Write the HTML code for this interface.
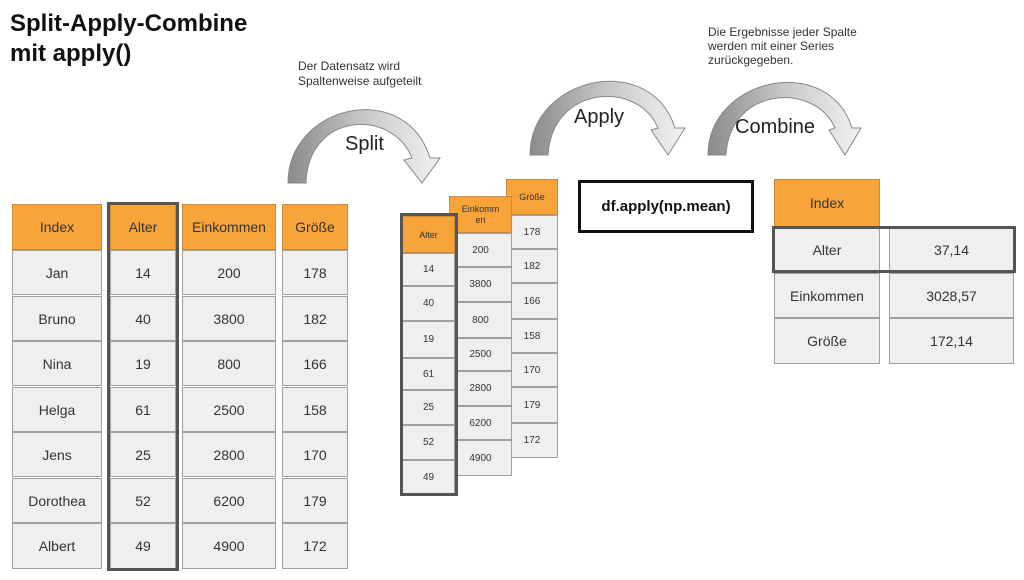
<!DOCTYPE html>
<html><head><meta charset="utf-8"><style>
body{margin:0;width:1024px;height:580px;background:#fff;position:relative;overflow:hidden;font-family:"Liberation Sans",Arial,sans-serif;}
.c{position:absolute;box-sizing:border-box;border:1px solid #a0a0a0;background:#efefef;display:flex;align-items:center;justify-content:center;text-align:center;color:#333;font-size:14px;}
.h{background:#f9a43a;border-color:#c98a3a;}
.t{position:absolute;color:#222;}
.s{font-size:9px;}
.m{font-size:10px;}
.b{position:absolute;box-sizing:border-box;border:3px solid #555;}
</style></head><body>
<div class="t" style="left:10px;top:9px;font-size:24px;font-weight:bold;line-height:30px;color:#111;">Split-Apply-Combine<br>mit apply()</div>
<div class="t" style="left:298px;top:59px;font-size:12px;line-height:15px;color:#333;">Der Datensatz wird<br>Spaltenweise aufgeteilt</div>
<div class="t" style="left:708px;top:25px;font-size:12px;line-height:14px;color:#333;">Die Ergebnisse jeder Spalte<br>werden mit einer Series<br>zurückgegeben.</div>

<svg width="1024" height="580" style="position:absolute;left:0;top:0">
<defs><linearGradient id="g" x1="0" x2="1" y1="0" y2="0"><stop offset="0" stop-color="#8a8a8a"/><stop offset="0.5" stop-color="#c8c8c8"/><stop offset="1" stop-color="#f2f2f2"/></linearGradient></defs>
<path d="M288,183 C288,105 405,78 430,158 L440,158 L422,183 L404,160 L412,158 C392,108 308,112 306,183 Z" fill="url(#g)" stroke="#888"/>
<path d="M530,155 C530,77 650,50 675,128 L685,128 L668,155 L651,130 L658,128 C638,80 552,85 548,155 Z" fill="url(#g)" stroke="#888"/>
<path d="M708,155 C708,78 828,52 852,128 L861,128 L845,155 L829,130 L835,128 C815,82 730,86 726,155 Z" fill="url(#g)" stroke="#888"/>
</svg>
<div class="t" style="left:345px;top:133px;font-size:20px;">Split</div>
<div class="t" style="left:574px;top:106px;font-size:20px;">Apply</div>
<div class="t" style="left:735px;top:116px;font-size:20px;">Combine</div>

<!-- left table -->
<div class="c h" style="left:12px;top:204px;width:90px;height:46px;">Index</div>
<div class="c h" style="left:110px;top:204px;width:66px;height:46px;">Alter</div>
<div class="c h" style="left:182px;top:204px;width:94px;height:46px;">Einkommen</div>
<div class="c h" style="left:282px;top:204px;width:66px;height:46px;">Größe</div>

<div class="c" style="left:12px;top:250px;width:90px;height:45px;">Jan</div>
<div class="c" style="left:110px;top:250px;width:66px;height:45px;">14</div>
<div class="c" style="left:182px;top:250px;width:94px;height:45px;">200</div>
<div class="c" style="left:282px;top:250px;width:66px;height:45px;">178</div>

<div class="c" style="left:12px;top:296px;width:90px;height:45px;">Bruno</div>
<div class="c" style="left:110px;top:296px;width:66px;height:45px;">40</div>
<div class="c" style="left:182px;top:296px;width:94px;height:45px;">3800</div>
<div class="c" style="left:282px;top:296px;width:66px;height:45px;">182</div>

<div class="c" style="left:12px;top:341px;width:90px;height:45px;">Nina</div>
<div class="c" style="left:110px;top:341px;width:66px;height:45px;">19</div>
<div class="c" style="left:182px;top:341px;width:94px;height:45px;">800</div>
<div class="c" style="left:282px;top:341px;width:66px;height:45px;">166</div>

<div class="c" style="left:12px;top:387px;width:90px;height:45px;">Helga</div>
<div class="c" style="left:110px;top:387px;width:66px;height:45px;">61</div>
<div class="c" style="left:182px;top:387px;width:94px;height:45px;">2500</div>
<div class="c" style="left:282px;top:387px;width:66px;height:45px;">158</div>

<div class="c" style="left:12px;top:432px;width:90px;height:45px;">Jens</div>
<div class="c" style="left:110px;top:432px;width:66px;height:45px;">25</div>
<div class="c" style="left:182px;top:432px;width:94px;height:45px;">2800</div>
<div class="c" style="left:282px;top:432px;width:66px;height:45px;">170</div>

<div class="c" style="left:12px;top:478px;width:90px;height:45px;">Dorothea</div>
<div class="c" style="left:110px;top:478px;width:66px;height:45px;">52</div>
<div class="c" style="left:182px;top:478px;width:94px;height:45px;">6200</div>
<div class="c" style="left:282px;top:478px;width:66px;height:45px;">179</div>

<div class="c" style="left:12px;top:523px;width:90px;height:46px;">Albert</div>
<div class="c" style="left:110px;top:523px;width:66px;height:46px;">49</div>
<div class="c" style="left:182px;top:523px;width:94px;height:46px;">4900</div>
<div class="c" style="left:282px;top:523px;width:66px;height:46px;">172</div>
<div class="b" style="left:107px;top:202px;width:72px;height:369px;"></div>

<!-- middle split columns -->
<div class="c h s" style="left:506px;top:179px;width:52px;height:36px;">Größe</div>
<div class="c m" style="left:506px;top:215px;width:52px;height:34px;">178</div>
<div class="c m" style="left:506px;top:249px;width:52px;height:34px;">182</div>
<div class="c m" style="left:506px;top:283px;width:52px;height:36px;">166</div>
<div class="c m" style="left:506px;top:319px;width:52px;height:34px;">158</div>
<div class="c m" style="left:506px;top:353px;width:52px;height:34px;">170</div>
<div class="c m" style="left:506px;top:387px;width:52px;height:36px;">179</div>
<div class="c m" style="left:506px;top:423px;width:52px;height:35px;">172</div>

<div class="c h s" style="left:449px;top:196px;width:63px;height:37px;line-height:11px;">Einkomm<br>en</div>
<div class="c m" style="left:449px;top:233px;width:63px;height:34px;">200</div>
<div class="c m" style="left:449px;top:267px;width:63px;height:35px;">3800</div>
<div class="c m" style="left:449px;top:302px;width:63px;height:36px;">800</div>
<div class="c m" style="left:449px;top:338px;width:63px;height:33px;">2500</div>
<div class="c m" style="left:449px;top:371px;width:63px;height:35px;">2800</div>
<div class="c m" style="left:449px;top:406px;width:63px;height:34px;">6200</div>
<div class="c m" style="left:449px;top:440px;width:63px;height:36px;">4900</div>

<div class="c h s" style="left:402px;top:216px;width:53px;height:37px;">Alter</div>
<div class="c m" style="left:402px;top:253px;width:53px;height:33px;">14</div>
<div class="c m" style="left:402px;top:286px;width:53px;height:35px;">40</div>
<div class="c m" style="left:402px;top:321px;width:53px;height:37px;">19</div>
<div class="c m" style="left:402px;top:358px;width:53px;height:32px;">61</div>
<div class="c m" style="left:402px;top:390px;width:53px;height:35px;">25</div>
<div class="c m" style="left:402px;top:425px;width:53px;height:35px;">52</div>
<div class="c m" style="left:402px;top:460px;width:53px;height:34px;">49</div>
<div class="b" style="left:400px;top:213px;width:58px;height:283px;"></div>

<!-- apply box -->
<div class="c" style="left:578px;top:180px;width:176px;height:53px;background:#fff;border:3px solid #111;font-weight:bold;font-size:15px;color:#111;">df.apply(np.mean)</div>

<!-- right table -->
<div class="c h" style="left:774px;top:179px;width:106px;height:48px;">Index</div>
<div class="c" style="left:774px;top:227px;width:106px;height:45px;">Alter</div>
<div class="c" style="left:889px;top:227px;width:125px;height:45px;">37,14</div>
<div class="c" style="left:774px;top:273px;width:106px;height:45px;">Einkommen</div>
<div class="c" style="left:889px;top:273px;width:125px;height:45px;">3028,57</div>
<div class="c" style="left:774px;top:318px;width:106px;height:46px;">Größe</div>
<div class="c" style="left:889px;top:318px;width:125px;height:46px;">172,14</div>
<div class="b" style="left:772px;top:226px;width:244px;height:47px;"></div>
</body></html>
